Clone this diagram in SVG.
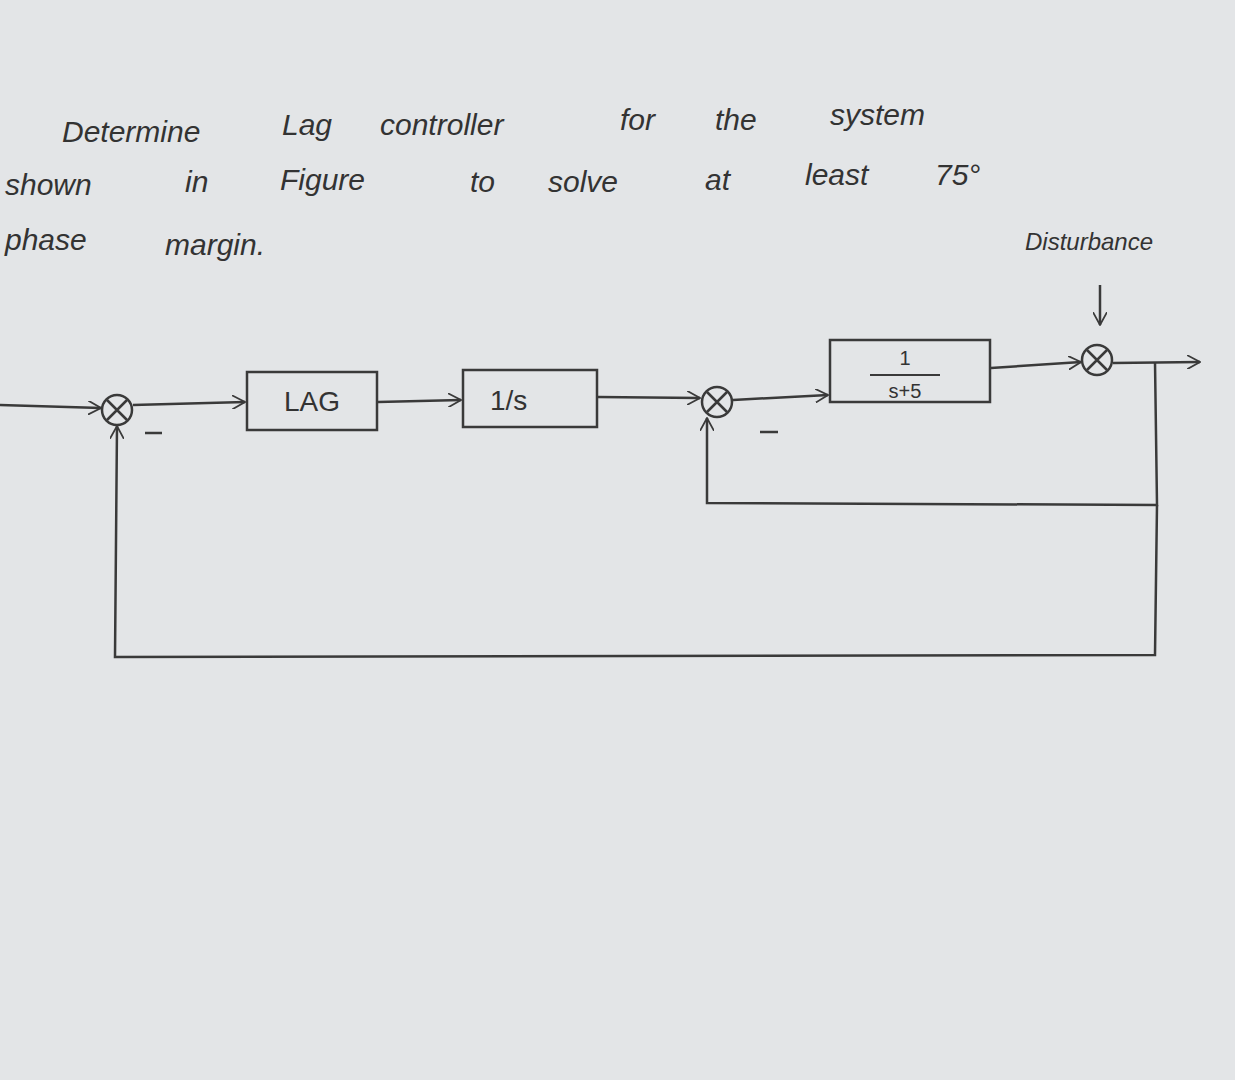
<svg xmlns="http://www.w3.org/2000/svg" width="1235" height="1080" viewBox="0 0 1235 1080">
<defs>
<marker id="a" viewBox="0 0 12 12" refX="11" refY="6" markerWidth="14" markerHeight="14" markerUnits="userSpaceOnUse" orient="auto"><path d="M0,0 L11,6 L0,12" fill="none" stroke="#3a3a3a" stroke-width="1.5"/></marker>
</defs>
<style>
.t{font-family:"Liberation Sans",sans-serif;font-size:30px;fill:#333;font-style:italic}
.b{fill:none;stroke:#3a3a3a;stroke-width:2.5}
.l{fill:none;stroke:#3a3a3a;stroke-width:2.5}
.bt{font-family:"Liberation Sans",sans-serif;font-size:28px;fill:#333}
</style>
<rect width="1235" height="1080" fill="#e3e5e7"/>
<g id="title">
<text class="t" x="62" y="142">Determine</text>
<text class="t" x="282" y="135">Lag</text>
<text class="t" x="380" y="135">controller</text>
<text class="t" x="620" y="130">for</text>
<text class="t" x="715" y="130">the</text>
<text class="t" x="830" y="125">system</text>
<text class="t" x="5" y="195">shown</text>
<text class="t" x="185" y="192">in</text>
<text class="t" x="280" y="190">Figure</text>
<text class="t" x="470" y="192">to</text>
<text class="t" x="548" y="192">solve</text>
<text class="t" x="705" y="190">at</text>
<text class="t" x="805" y="185">least</text>
<text class="t" x="935" y="185">75°</text>
<text class="t" x="5" y="250">phase</text>
<text class="t" x="165" y="255">margin.</text>
<text class="t" x="1025" y="250" style="font-size:24px">Disturbance</text>
</g>
<g id="sum1"><circle class="b" cx="117" cy="410" r="15"/><path class="b" d="M107,400 L127,420 M127,400 L107,420"/></g>
<g id="lag"><rect class="b" x="247" y="372" width="130" height="58"/><text class="bt" x="312" y="411" text-anchor="middle">LAG</text></g>
<g id="integ"><rect class="b" x="463" y="370" width="134" height="57"/><text class="bt" x="490" y="410">1/s</text></g>
<g id="sum2"><circle class="b" cx="717" cy="402" r="15"/><path class="b" d="M707,392 L727,412 M727,392 L707,412"/></g>
<g id="plant"><rect class="b" x="830" y="340" width="160" height="62"/><text class="bt" x="905" y="365" text-anchor="middle" style="font-size:20px">1</text><line x1="870" y1="375" x2="940" y2="375" stroke="#3a3a3a" stroke-width="2"/><text class="bt" x="905" y="398" text-anchor="middle" style="font-size:20px">s+5</text></g>
<g id="sum3"><circle class="b" cx="1097" cy="360" r="15"/><path class="b" d="M1087,350 L1107,370 M1107,350 L1087,370"/></g>
<g id="connectors">
<path class="l" d="M0,405 L101,408" marker-end="url(#a)"/>
<path class="l" d="M133,405 L245,402" marker-end="url(#a)"/>
<path class="l" d="M378,402 L461,400" marker-end="url(#a)"/>
<path class="l" d="M598,397 L700,398" marker-end="url(#a)"/>
<path class="l" d="M733,400 L828,395" marker-end="url(#a)"/>
<path class="l" d="M991,368 L1081,362" marker-end="url(#a)"/>
<path class="l" d="M1113,363 L1200,362" marker-end="url(#a)"/>
<path class="l" d="M1100,285 L1100,325" marker-end="url(#a)"/>
<path class="l" d="M1155,362 L1157,505 L707,503 L707,418" marker-end="url(#a)"/>
<path class="l" d="M1157,505 L1155,655 L115,657 L117,426" marker-end="url(#a)"/>
<path class="l" d="M145,433 L162,433 M760,432 L778,432"/>
</g>
</svg>
